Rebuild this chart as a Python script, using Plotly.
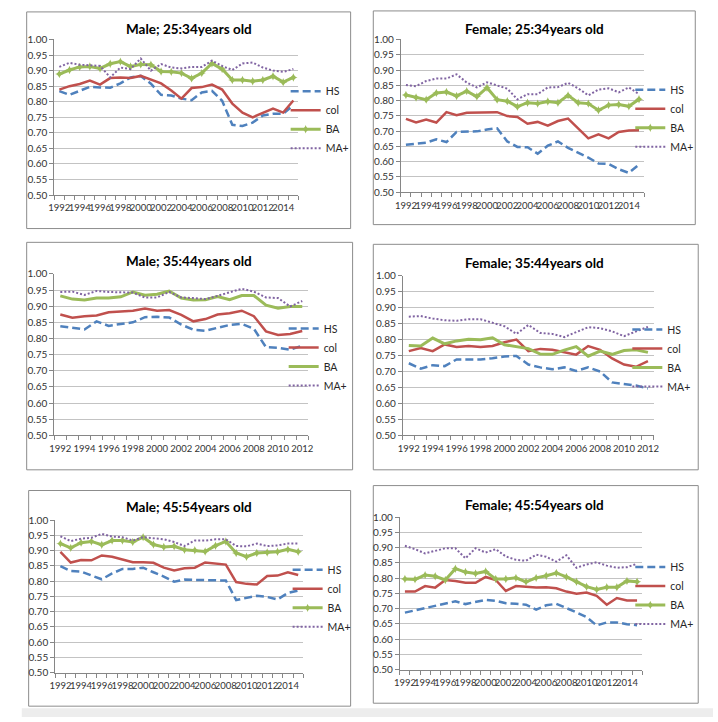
import plotly.graph_objects as go

# ---------------- data ----------------
years_long = list(range(1992, 2016))   # 24 years
years_short = list(range(1992, 2013))  # 21 years
series_names = ["HS", "col", "BA", "MA+"]

titles = ["Male; 25:34years old", "Female; 25:34years old",
          "Male; 35:44years old", "Female; 35:44years old",
          "Male; 45:54years old", "Female; 45:54years old"]

m25_hs = [0.834, 0.822, 0.835, 0.848, 0.846, 0.845, 0.859, 0.878, 0.883, 0.858, 0.822, 0.820,
          0.810, 0.805, 0.830, 0.835, 0.803, 0.726, 0.722, 0.733, 0.756, 0.761, 0.761, 0.789]
m25_col = [0.839, 0.850, 0.857, 0.868, 0.855, 0.876, 0.878, 0.876, 0.883, 0.870, 0.859, 0.836,
           0.810, 0.844, 0.847, 0.855, 0.839, 0.794, 0.765, 0.750, 0.763, 0.778, 0.765, 0.804]
m25_ba = [0.889, 0.902, 0.912, 0.913, 0.907, 0.922, 0.929, 0.913, 0.920, 0.919, 0.897, 0.896,
          0.892, 0.875, 0.892, 0.923, 0.905, 0.870, 0.870, 0.866, 0.870, 0.882, 0.863, 0.878]
m25_ma = [0.912, 0.925, 0.919, 0.917, 0.915, 0.878, 0.910, 0.905, 0.939, 0.900, 0.921, 0.910,
          0.907, 0.912, 0.912, 0.932, 0.915, 0.902, 0.923, 0.926, 0.910, 0.900, 0.896, 0.905]

f25_hs = [0.655, 0.659, 0.662, 0.673, 0.664, 0.697, 0.697, 0.699, 0.705, 0.709, 0.666, 0.648,
          0.647, 0.626, 0.652, 0.666, 0.645, 0.630, 0.613, 0.594, 0.592, 0.575, 0.563, 0.590]
f25_col = [0.740, 0.728, 0.738, 0.728, 0.762, 0.752, 0.760, 0.760, 0.760, 0.762, 0.749, 0.746,
           0.724, 0.730, 0.718, 0.733, 0.741, 0.708, 0.676, 0.689, 0.676, 0.697, 0.702, 0.703]
f25_ba = [0.818, 0.810, 0.803, 0.825, 0.828, 0.815, 0.831, 0.813, 0.842, 0.803, 0.798, 0.780,
          0.793, 0.790, 0.797, 0.793, 0.817, 0.793, 0.790, 0.768, 0.785, 0.787, 0.781, 0.804]
f25_ma = [0.851, 0.847, 0.864, 0.872, 0.872, 0.886, 0.859, 0.843, 0.860, 0.850, 0.839, 0.804,
          0.821, 0.821, 0.843, 0.844, 0.858, 0.840, 0.817, 0.836, 0.840, 0.827, 0.843, 0.821]

m35_hs = [0.838, 0.833, 0.828, 0.853, 0.839, 0.845, 0.850, 0.866, 0.867, 0.865, 0.843,
          0.827, 0.824, 0.833, 0.842, 0.845, 0.830, 0.773, 0.771, 0.765, 0.778]
m35_col = [0.874, 0.864, 0.869, 0.871, 0.881, 0.883, 0.886, 0.893, 0.886, 0.888, 0.873,
           0.853, 0.860, 0.874, 0.878, 0.886, 0.869, 0.822, 0.811, 0.814, 0.823]
m35_ba = [0.932, 0.922, 0.919, 0.925, 0.925, 0.929, 0.944, 0.934, 0.937, 0.947, 0.925,
          0.919, 0.920, 0.930, 0.920, 0.933, 0.933, 0.903, 0.894, 0.899, 0.899]
m35_ma = [0.944, 0.945, 0.935, 0.947, 0.944, 0.942, 0.942, 0.927, 0.927, 0.944, 0.927,
          0.925, 0.922, 0.932, 0.944, 0.954, 0.945, 0.927, 0.925, 0.899, 0.916]

f35_hs = [0.726, 0.709, 0.720, 0.717, 0.738, 0.738, 0.738, 0.742, 0.747, 0.749, 0.722,
          0.713, 0.707, 0.713, 0.702, 0.713, 0.700, 0.666, 0.661, 0.656, 0.647]
f35_col = [0.764, 0.774, 0.764, 0.785, 0.777, 0.780, 0.777, 0.780, 0.792, 0.800, 0.764,
           0.771, 0.768, 0.761, 0.753, 0.780, 0.768, 0.741, 0.722, 0.715, 0.733]
f35_ba = [0.782, 0.780, 0.805, 0.787, 0.796, 0.801, 0.800, 0.806, 0.784, 0.779, 0.772,
          0.755, 0.754, 0.767, 0.778, 0.748, 0.764, 0.754, 0.766, 0.768, 0.760]
f35_ma = [0.872, 0.874, 0.866, 0.861, 0.859, 0.864, 0.864, 0.852, 0.842, 0.818, 0.846,
          0.821, 0.818, 0.808, 0.823, 0.839, 0.836, 0.826, 0.811, 0.826, 0.840]

m45_hs = [0.849, 0.833, 0.831, 0.819, 0.806, 0.825, 0.840, 0.840, 0.844, 0.829, 0.815, 0.798,
          0.805, 0.804, 0.803, 0.803, 0.802, 0.738, 0.745, 0.752, 0.748, 0.740, 0.761, 0.769]
m45_col = [0.896, 0.861, 0.869, 0.868, 0.884, 0.880, 0.871, 0.862, 0.862, 0.860, 0.844, 0.835,
           0.842, 0.844, 0.861, 0.857, 0.854, 0.797, 0.791, 0.789, 0.817, 0.818, 0.829, 0.820]
m45_ba = [0.923, 0.909, 0.926, 0.930, 0.919, 0.933, 0.933, 0.928, 0.944, 0.920, 0.912, 0.914,
          0.903, 0.901, 0.897, 0.916, 0.930, 0.892, 0.880, 0.892, 0.894, 0.896, 0.904, 0.896]
m45_ma = [0.947, 0.931, 0.939, 0.942, 0.955, 0.946, 0.944, 0.933, 0.944, 0.941, 0.937, 0.928,
          0.915, 0.933, 0.933, 0.937, 0.937, 0.915, 0.914, 0.923, 0.915, 0.917, 0.923, 0.923]

f45_hs = [0.687, 0.694, 0.701, 0.708, 0.716, 0.724, 0.715, 0.721, 0.729, 0.726, 0.718, 0.716,
          0.713, 0.697, 0.711, 0.716, 0.703, 0.688, 0.672, 0.645, 0.655, 0.655, 0.649, 0.646]
f45_col = [0.756, 0.756, 0.774, 0.769, 0.794, 0.791, 0.785, 0.785, 0.804, 0.794, 0.758, 0.774,
           0.772, 0.769, 0.770, 0.767, 0.756, 0.749, 0.753, 0.742, 0.713, 0.735, 0.727, 0.727]
f45_ba = [0.797, 0.796, 0.810, 0.806, 0.794, 0.831, 0.820, 0.815, 0.822, 0.797, 0.797, 0.801,
          0.788, 0.801, 0.808, 0.817, 0.804, 0.788, 0.772, 0.763, 0.770, 0.770, 0.791, 0.788]
f45_ma = [0.906, 0.895, 0.881, 0.889, 0.898, 0.898, 0.865, 0.898, 0.884, 0.895, 0.871, 0.860,
          0.857, 0.877, 0.870, 0.854, 0.875, 0.834, 0.845, 0.852, 0.841, 0.834, 0.836, 0.847]

panel_years = [years_long, years_long, years_short, years_short, years_long, years_long]
panel_series = [
    [m25_hs, m25_col, m25_ba, m25_ma],
    [f25_hs, f25_col, f25_ba, f25_ma],
    [m35_hs, m35_col, m35_ba, m35_ma],
    [f35_hs, f35_col, f35_ba, f35_ma],
    [m45_hs, m45_col, m45_ba, m45_ma],
    [f45_hs, f45_col, f45_ba, f45_ma],
]
panel_markers = [True, True, False, False, True, True]

# ---------------- layout geometry (pixels) ----------------
W, H = 718, 722
plot_boxes = [(49, 297, 34, 192), (401, 648, 34, 189),
              (49, 307, 272, 436), (403, 658, 274, 436),
              (50, 302, 522, 677), (400, 646, 519, 674)]
chart_boxes = [(21, 350, 6, 226), (373, 700, 5, 222),
               (21, 352, 240, 471), (373, 703, 242, 471),
               (23, 350, 492, 711), (373, 703, 487, 708)]
title_pos = [(186, 23), (537, 23), (186, 259), (537, 261), (186, 509), (537, 507)]
legend_pos = [(325, 115.5), (675, 114), (323, 356.5), (672, 357.5), (327, 601.5), (675, 598.5)]


def px(x):
    return x / W


def py(y):
    return 1 - y / H


colors = {"HS": "#4f81bd", "col": "#c0504d", "BA": "#9bbb59", "MA+": "#8064a2"}
FONT = "Lato, 'Open Sans', sans-serif"
AXIS_C = "#868686"
GRID_C = "#c3c3c3"

fig = go.Figure()
layout = dict(width=W, height=H, margin=dict(l=0, r=0, t=0, b=0),
              paper_bgcolor="white", plot_bgcolor="white", showlegend=True,
              font=dict(family=FONT, color="#404040"))
annotations = []
shapes = []

for p in range(6):
    n = "" if p == 0 else str(p + 1)
    yrs = panel_years[p]
    leg = "legend" if p == 0 else "legend" + str(p + 1)
    for name, vals in zip(series_names, panel_series[p]):
        line = dict(color=colors[name], width=2.5)
        mode = "lines"
        marker = None
        if name == "HS":
            line["dash"] = "8px,4px"
        elif name == "MA+":
            line["dash"] = "2px,2px"
            line["width"] = 2
        elif name == "BA":
            line["width"] = 3
            if panel_markers[p]:
                mode = "lines+markers"
                marker = dict(symbol="star-diamond", size=6, color=colors[name])
        fig.add_trace(go.Scatter(x=yrs, y=vals, name=name, mode=mode, line=line,
                                 marker=marker, xaxis="x" + n, yaxis="y" + n,
                                 legend=leg, hoverinfo="x+y+name"))

    l, r, t, b = plot_boxes[p]
    layout["xaxis" + n] = dict(
        domain=[px(l), px(r)], anchor="y" + n,
        range=[yrs[0] - 0.5, yrs[-1] + 0.5],
        tickmode="array", tickvals=yrs[::2], ticktext=[str(v) for v in yrs[::2]],
        tickangle=0, ticks="outside", ticklen=4, tickcolor="rgba(0,0,0,0)",
        tickfont=dict(family=FONT, size=9.5, color="#333333"),
        minor=dict(tickmode="array", tickvals=[v - 0.5 for v in yrs] + [yrs[-1] + 0.5],
                   ticks="outside", ticklen=4, tickcolor=AXIS_C, tickwidth=1, showgrid=False),
        showgrid=False, zeroline=False, showline=True, linecolor=AXIS_C, linewidth=1,
        fixedrange=True)
    layout["yaxis" + n] = dict(
        domain=[py(b), py(t)], anchor="x" + n,
        range=[0.4999, 1.0001], tickmode="linear", tick0=0.5, dtick=0.05, tickformat=".2f",
        ticks="outside", ticklen=4, tickcolor=AXIS_C,
        tickfont=dict(family=FONT, size=10, color="#333333"),
        showgrid=True, gridcolor=GRID_C, gridwidth=1, zeroline=False,
        showline=True, linecolor=AXIS_C, linewidth=1, fixedrange=True)

    lx, ly = legend_pos[p]
    layout[leg] = dict(x=px(lx - 41), y=py(ly), xanchor="left", yanchor="middle",
                       xref="paper", yref="paper", bgcolor="rgba(0,0,0,0)",
                       font=dict(family=FONT, size=10.5, color="#262626"),
                       tracegroupgap=0, itemwidth=30)

    cx, cy = title_pos[p]
    annotations.append(dict(text="<b>" + titles[p] + "</b>", x=px(cx), y=py(cy),
                            xref="paper", yref="paper", showarrow=False,
                            xanchor="center", yanchor="middle",
                            font=dict(family=FONT, size=13.5, color="#000000")))
    bl, br, bt, bb = chart_boxes[p]
    shapes.append(dict(type="rect", xref="paper", yref="paper",
                       x0=px(bl), x1=px(br), y0=py(bb), y1=py(bt),
                       line=dict(color="#8c8c8c", width=1), fillcolor="rgba(0,0,0,0)",
                       layer="below"))

# light grey strip at the bottom of the page
shapes.append(dict(type="rect", xref="paper", yref="paper", x0=px(16), x1=1,
                   y0=0, y1=py(713), line=dict(width=0), fillcolor="#ededed", layer="below"))

layout["annotations"] = annotations
layout["shapes"] = shapes
fig.update_layout(**layout)

fig.write_html("out.html")
